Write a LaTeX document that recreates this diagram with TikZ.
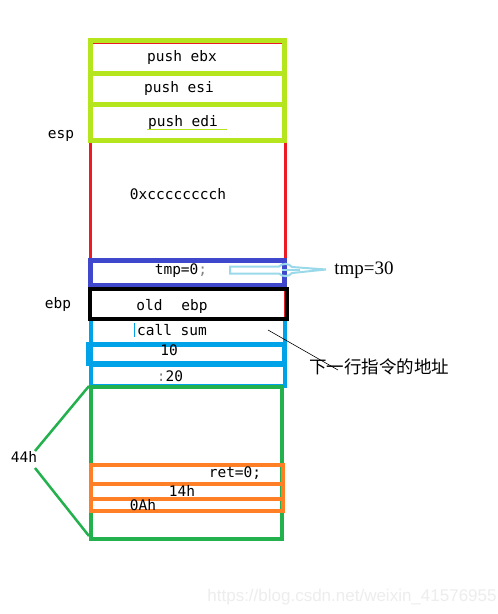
\documentclass[tikz,border=0pt]{standalone}
\usepackage{fontspec}
\setmainfont{DejaVu Sans Mono}
\newfontfamily\cjkfont{Noto Sans CJK SC}
\newfontfamily\serfont{Liberation Serif}
\definecolor{lime}{HTML}{B5E61D}
\definecolor{pred}{HTML}{ED1C24}
\definecolor{pindigo}{HTML}{3F48CC}
\definecolor{pturq}{HTML}{00A2E8}
\definecolor{pgreen}{HTML}{22B14C}
\definecolor{porange}{HTML}{FF7F27}
\definecolor{plight}{HTML}{99D9EA}
\tikzset{
  lbl/.style={inner sep=0pt, font=\fontsize{14.5}{16}\selectfont},
}
\begin{document}
\begin{tikzpicture}[x=1pt,y=-1pt]
\useasboundingbox[fill=white] (0,0) rectangle (498,614);
% red frame
\draw[pred, line width=3.5pt] (90.5,42) rectangle (285.5,319);
% lime boxes
\draw[lime, line width=5pt] (90.5,40.5) rectangle (284.5,73.5);
\draw[lime, line width=5pt] (90.5,73.5) rectangle (284.5,104);
\draw[lime, line width=5pt] (90.5,104) rectangle (284.5,140.5);
% indigo tmp box
\draw[pindigo, line width=5pt] (90.5,260) rectangle (284.5,285);
% black old ebp box
\draw[black, line width=4pt] (90,289) rectangle (287,319);
% turquoise region
\draw[pturq, line width=4pt] (90.5,321) -- (90.5,386);
\draw[pturq, line width=4pt] (284.5,321) -- (284.5,386);
\draw[pturq, line width=5pt] (88.5,344) rectangle (284.5,363);
\draw[pturq, line width=4pt] (91,365) rectangle (284.5,385.5);
% green big box
\draw[pgreen, line width=4pt] (91,387) rectangle (282,539);
% orange boxes
\draw[porange, line width=3.5pt] (91,465) rectangle (283,484);
\draw[porange, line width=3.5pt] (91,484) rectangle (283,499);
\draw[porange, line width=3.5pt] (91,499) rectangle (283,511);

% labels
\node[lbl] (ebx) at (182,57.5) {push ebx};
\node[lbl] (esi) at (179,88) {push esi};
\node[lbl] (edi) at (183,122) {push edi};
\draw[lime, line width=1pt] (147,129) -- (227,129);
\node[lbl] (esp) at (61,136) {esp};
\node[lbl] (ccc) at (178,194) {0xcccccccch};
\node[lbl] (tmp) at (181,271) {tmp=0\textcolor{gray}{;}};
\node[lbl] (ebp) at (58,304) {ebp};
\node[lbl] (old) at (172,306) {old\hspace{1.3em}ebp};
\node[lbl] (call) at (172,330) {call sum};
\draw[pturq, line width=1pt] (134.5,323) -- (134.5,337);
\node[lbl] (ten) at (169,350) {10};
\node[lbl] (twenty) at (170,376) {\textcolor{gray}{:}20};
\node[lbl] (ret) at (235,473) {ret=0;};
\node[lbl] (fourteen) at (182,491) {14h};
\node[lbl] (zah) at (143,505) {0Ah};
\node[lbl] (ffh) at (24,457) {44h};

% 44h connectors
\coordinate (gtop) at (89,386);
\coordinate (gbot) at (89,536);
\draw[pgreen, line width=2.5pt] (35,451) -- (gtop);
\draw[pgreen, line width=2.5pt] (35,468) -- (gbot);

% tmp=30 hollow arrow
\node[inner sep=0pt, font=\serfont\fontsize{19}{21}\selectfont] (t30) at (364,270) {tmp=30};
\draw[plight, line width=2pt]
  (230,266.5) -- (279,266.5) .. controls (282,263) and (289,263) .. (292,267)
  -- (326,269.5) -- (292,273) .. controls (289,277) and (282,277) .. (279,273.5)
  -- (230,273.5) -- cycle;
\draw[plight, line width=1.5pt] (282,270) -- (300,270);

% next instruction address
\node[inner sep=0pt, font=\cjkfont\fontsize{17.5}{20}\selectfont] (addr) at (379,367) {下一行指令的地址};
\coordinate (callpt) at (268,330);
\draw[black, line width=0.6pt] (callpt) -- (338,370);

% watermark
\node[inner sep=0pt, text=black!7, font=\fontspec{Liberation Sans}\fontsize{17}{19}\selectfont] (wm) at (352,597) {https://blog.csdn.net/weixin\_41576955};
\end{tikzpicture}
\end{document}
